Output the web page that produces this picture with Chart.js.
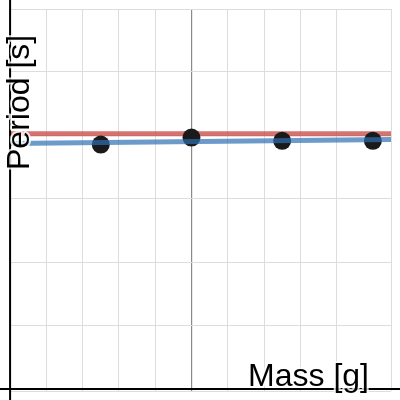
<!DOCTYPE html><html><head><script src="https://cdn.jsdelivr.net/npm/chart.js@4"></script>
<style>html,body{margin:0;padding:0;background:#fff}#c{width:400px;height:400px}</style></head><body>
<div id="c"><canvas id="cv" width="400" height="400"></canvas></div>
<script>
const massX=[2.5,5,7.5,10];
const periodY=[3.85,3.96,3.91,3.91];
const redLine=[{x:-1,y:4.02},{x:11,y:4.02}];
const blueLine=[{x:-1,y:3.86},{x:11,y:3.935}];
const xLabel="Mass [g]", yLabel="Period [s]";
const labels={id:'labels',afterDraw(c){const g=c.ctx,x=c.scales.x,y=c.scales.y;g.save();
g.strokeStyle='#000';g.lineWidth=2;g.beginPath();g.moveTo(x.getPixelForValue(0),0);g.lineTo(x.getPixelForValue(0),400);
g.moveTo(0,y.getPixelForValue(0));g.lineTo(400,y.getPixelForValue(0));g.stroke();
g.font='32px "Liberation Sans", Arial';g.fillStyle='#000';g.textBaseline='alphabetic';
g.strokeStyle='rgba(255,255,255,0.8)';g.lineWidth=4;g.lineJoin='round';
g.textAlign='right';g.strokeText(xLabel,369,386);g.fillText(xLabel,369,386);
g.translate(29,170);g.rotate(-Math.PI/2);g.textAlign='left';g.strokeText(yLabel,0,0);g.fillText(yLabel,0,0);g.restore();}};
new Chart(document.getElementById('cv'),{type:'scatter',
data:{datasets:[
{data:redLine,type:'line',borderColor:'rgba(199,68,64,0.75)',borderWidth:5,pointRadius:0,order:3},
{data:massX.map((v,i)=>({x:v,y:periodY[i]})),backgroundColor:'#1a1a1a',pointRadius:9,borderWidth:0,order:2},
{data:blueLine,type:'line',borderColor:'rgba(45,112,179,0.7)',borderWidth:5,pointRadius:0,order:1}
]},
options:{responsive:false,animation:false,layout:{padding:0},plugins:{legend:{display:false},tooltip:{enabled:false}},
scales:{x:{type:'linear',min:-0.03,max:10.5,afterFit:s=>{s.height=0;s.paddingLeft=0;s.paddingRight=0;},ticks:{display:false,stepSize:1,padding:0},border:{display:false},
grid:{drawTicks:false,color:c=>c.tick&&c.tick.value%5===0?'#8a8a8a':'#dddddd',lineWidth:c=>c.tick&&c.tick.value%5===0?1.2:1}},
y:{type:'linear',min:-0.03,max:5.985,afterFit:s=>{s.width=0;s.paddingTop=0;s.paddingBottom=0;},ticks:{display:false,stepSize:1,padding:0},border:{display:false},grid:{drawTicks:false,color:'#dddddd'}}}},
plugins:[labels]});
</script></body></html>
